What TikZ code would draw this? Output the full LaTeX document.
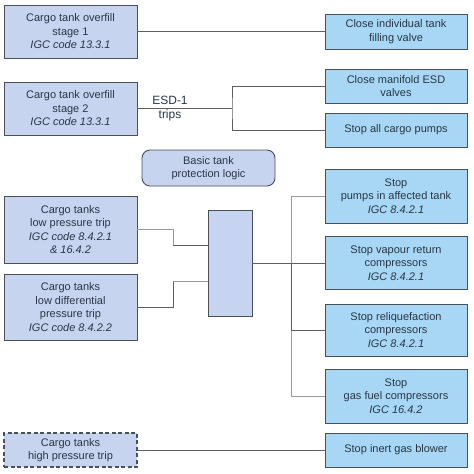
\documentclass[tikz,border=0pt]{standalone}
\usepackage{fontspec}
\setmainfont{Liberation Sans}
\definecolor{lfill}{HTML}{C6D4EF}
\definecolor{rfill}{HTML}{A7D7F4}
\definecolor{bord}{HTML}{4A5058}
\definecolor{txt}{HTML}{2A3646}
\definecolor{linedark}{HTML}{5E5E5E}
\definecolor{linelight}{HTML}{9A9A9A}
\begin{document}
\begin{tikzpicture}[x=1pt,y=-1pt,
  box/.style={draw=bord, line width=0.9pt, align=center, inner sep=0pt, text=txt,
    font=\fontsize{11}{13.5}\selectfont},
  lbox/.style={box, fill=lfill, minimum width=133pt},
  rbox/.style={box, fill=rfill, minimum width=142pt},
  conn/.style={draw=linedark, line width=0.8pt},
  connl/.style={draw=linelight, line width=0.8pt},
  lab/.style={text=txt, font=\fontsize{12}{13}\selectfont, inner sep=0pt}]
\useasboundingbox (0,0) rectangle (474,474);

% left boxes
\node[lbox, minimum height=53pt] (L1) at (70.5,31.5) {Cargo tank overfill\\stage 1\\\textit{IGC code 13.3.1}};
\node[lbox, minimum height=53pt] (L2) at (70.5,108.5) {Cargo tank overfill\\stage 2\\\textit{IGC code 13.3.1}};
\node[lbox, minimum height=67pt] (L3) at (70.5,229.5) {Cargo tanks\\low pressure trip\\\textit{IGC code 8.4.2.1}\\\textit{\& 16.4.2}};
\node[lbox, minimum height=66pt] (L4) at (70.5,307) {Cargo tanks\\low differential\\pressure trip\\\textit{IGC code 8.4.2.2}};
\node[lbox, minimum height=34pt, dashed, dash pattern=on 4pt off 2.5pt, line width=1.4pt] (L5) at (70.5,450) {Cargo tanks\\high pressure trip};

% logic box and title
\node[box, fill=lfill, minimum width=133pt, minimum height=36pt, rounded corners=8pt] (T) at (208.5,168) {Basic tank\\protection logic};
\node[box, fill=lfill, minimum width=44pt, minimum height=106pt] (M) at (230,263) {};

% right boxes
\node[rbox, minimum height=35pt] (R1) at (396,31.5) {Close individual tank\\filling valve};
\node[rbox, minimum height=34pt] (R2) at (396,86) {Close manifold ESD\\valves};
\node[rbox, minimum height=34pt] (R3) at (396,130) {Stop all cargo pumps};
\node[rbox, minimum height=54pt] (R4) at (396,196) {Stop\\pumps in affected tank\\\textit{IGC 8.4.2.1}};
\node[rbox, minimum height=53pt] (R5) at (396,263) {Stop vapour return\\compressors\\\textit{IGC 8.4.2.1}};
\node[rbox, minimum height=52pt] (R6) at (396,330) {Stop reliquefaction\\compressors\\\textit{IGC 8.4.2.1}};
\node[rbox, minimum height=54pt] (R7) at (396,396) {Stop\\gas fuel compressors\\\textit{IGC 16.4.2}};
\node[rbox, minimum height=34pt] (R8) at (396,450) {Stop inert gas blower};

% connectors
\draw[conn] (L1.east) -- (R1.west);
\coordinate (j2) at (232,108.5);
\draw[conn] (L2.east) -- (j2);
\draw[conn] (R2.west) -| (j2) |- (R3.west);
\node[lab, anchor=base] (esd) at (170,104.5) {ESD-1};
\node[lab, anchor=base] (trips) at (170,118) {trips};

\coordinate (k1) at (173,245);
\coordinate (k2) at (173,281);
\draw[connl] (L3.east) -| (k1);
\draw[conn] (k1) -- (k1 -| M.west);
\draw[conn] (L4.east) -| (k2);
\draw[connl] (k2) -- (k2 -| M.west);

\coordinate (b) at (291,263);
\draw[conn] (M.east) -- (b);
\draw[connl] (R4.west) -| (b);
\draw[connl] (b) |- (R7.west);
\draw[conn] (b) |- (R6.west);
\draw[conn] (b) -- (R5.west);

\draw[conn] (L5.east) -- (R8.west);
\end{tikzpicture}
\end{document}
